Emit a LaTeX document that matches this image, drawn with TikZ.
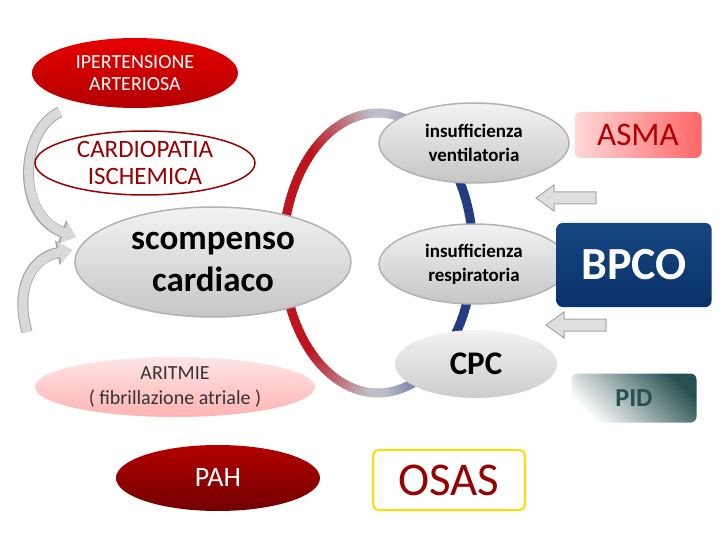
\documentclass[tikz,border=0pt]{standalone}
\usepackage{fontspec}
\setmainfont{Carlito}
\usetikzlibrary{shapes.geometric,arrows.meta}
\definecolor{navy}{RGB}{22,70,130}
\definecolor{navyd}{RGB}{10,50,105}
\definecolor{ringred}{RGB}{190,20,30}
\definecolor{ringblue}{RGB}{35,60,130}
\definecolor{ringgray}{RGB}{190,190,200}
\definecolor{tealD}{RGB}{40,80,80}
\begin{document}
\begin{tikzpicture}[x=1pt,y=-1pt,
 ell/.style={ellipse,inner sep=0pt,align=center},
 gr/.style={ell,draw=gray!60,line width=1.5pt,top color=gray!10,bottom color=gray!45},
 box/.style={rounded corners=6pt,inner sep=0pt,align=center},
 blk/.style={draw=gray!70,fill=gray!25,line width=1pt},
 ring/.style={line width=9pt}]
\useasboundingbox (0,0) rectangle (720,540);
% ring
\foreach \a in {92,94,...,270}{
 \pgfmathsetmacro{\d}{abs(\a-180)}
 \pgfmathsetmacro{\p}{\d<45 ? 100 : max(0,100-(\d-45)*100/40)}
 \colorlet{cc}{ringred!\p!ringgray}
 \draw[ring,cc] (378,253) ++(\a:95 and 140) arc[start angle=\a,end angle=\a+2.6,x radius=95,y radius=140];}
\foreach \a in {-90,-88,...,90}{
 \pgfmathsetmacro{\d}{abs(\a)}
 \pgfmathsetmacro{\p}{\d<45 ? 100 : max(0,100-(\d-45)*100/40)}
 \colorlet{cc}{ringblue!\p!ringgray}
 \draw[ring,cc] (378,253) ++(\a:95 and 140) arc[start angle=\a,end angle=\a+2.6,x radius=95,y radius=140];}
% left curved arrows
\coordinate (a1s) at (60,112); \coordinate (a1e) at (76,237);
\coordinate (a2s) at (27,332); \coordinate (a2e) at (72,250);
\draw[gray!70,line width=11pt,-{Triangle[length=15pt,width=24pt]}] (a1s) .. controls (20,130) and (15,215) .. (a1e);
\draw[gray!30,line width=9pt,-{Triangle[length=13pt,width=21pt]}] (a1s) .. controls (20,130) and (15,215) .. (a1e);
\draw[gray!70,line width=11pt,-{Triangle[length=15pt,width=24pt]}] (a2s) .. controls (15,290) and (30,258) .. (a2e);
\draw[gray!30,line width=9pt,-{Triangle[length=13pt,width=21pt]}] (a2s) .. controls (15,290) and (30,258) .. (a2e);
% nodes
\node[ell,minimum width=206pt,minimum height=70pt,top color=red!90!black,bottom color=red!70!black,text=white,font=\fontsize{20}{22}\selectfont] (ip) at (135,73) {IPERTENSIONE\\ARTERIOSA};
\node[ell,draw=red!60!black,line width=1.5pt,fill=white,minimum width=220pt,minimum height=64pt,text=red!60!black,font=\fontsize{25}{27}\selectfont] (ci) at (145,163) {CARDIOPATIA\\ISCHEMICA};
\node[gr,minimum width=276pt,minimum height=110pt,font=\bfseries\fontsize{35}{42}\selectfont] (sc) at (213,262) {scompenso\\cardiaco};
\node[ell,top color=red!10,bottom color=red!30,minimum width=280pt,minimum height=60pt,text=black!80,font=\fontsize{20}{25}\selectfont] (ar) at (175,387) {ARITMIE\\( fibrillazione atriale )};
\node[ell,top color=red!70!black,bottom color=red!45!black,minimum width=204pt,minimum height=66pt,text=white,font=\fontsize{28}{30}\selectfont] (pah) at (218,478) {PAH};
\node[gr,minimum width=190pt,minimum height=80pt,font=\bfseries\fontsize{19}{24}\selectfont] (iv) at (474,143) {insufficienza\\ventilatoria};
\node[gr,minimum width=190pt,minimum height=80pt,font=\bfseries\fontsize{19}{24}\selectfont] (irr) at (474,264) {insufficienza\\respiratoria};
\node[ell,top color=gray!10,bottom color=gray!40,minimum width=162pt,minimum height=68pt,font=\bfseries\fontsize{33}{36}\selectfont] (cpc) at (476,364) {CPC};
\node[box,draw=yellow!80!orange,line width=2pt,fill=white,minimum width=152pt,minimum height=60pt,text=red!60!black,font=\fontsize{47}{50}\selectfont] (os) at (449,480) {OSAS};
\node[box,left color=red!15,right color=red!60,minimum width=127pt,minimum height=46pt,text=red!70!black,font=\fontsize{33}{36}\selectfont] (as) at (638,135) {ASMA};
\node[box,top color=navy,bottom color=navyd,minimum width=155pt,minimum height=84pt,text=white,font=\bfseries\fontsize{46}{50}\selectfont] (bp) at (634,265) {BPCO};
\node[box,left color=white,right color=tealD,shading angle=135,minimum width=125pt,minimum height=49pt,text=tealD,font=\bfseries\fontsize{26}{28}\selectfont] (pid) at (634,398) {PID};
% block arrows
\coordinate (b1) at (596,198); \coordinate (b2) at (606,325);
\draw[blk] (b1) ++(0,-6) -- ++(-42,0) -- ++(0,-7) -- ++(-18,13) -- ++(18,13) -- ++(0,-7) -- ++(42,0) -- cycle;
\draw[blk] (b2) ++(0,-6) -- ++(-42,0) -- ++(0,-7) -- ++(-18,13) -- ++(18,13) -- ++(0,-7) -- ++(42,0) -- cycle;
\end{tikzpicture}
\end{document}
